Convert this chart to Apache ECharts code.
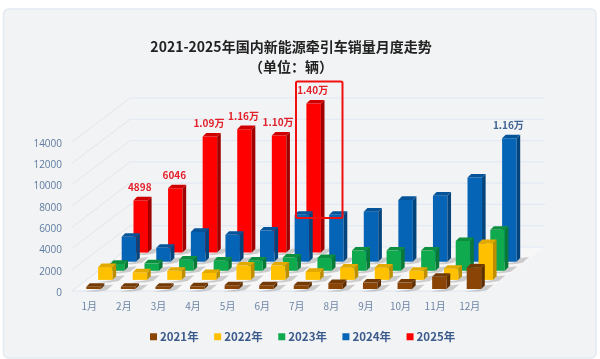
<!DOCTYPE html>
<html><head><meta charset="utf-8">
<style>html,body{margin:0;padding:0;background:#fff}#c{width:600px;height:359px;filter:blur(0.45px)}</style>
<script src="https://cdn.jsdelivr.net/npm/echarts@6/dist/echarts.min.js"></script>
</head><body><div id="c"></div>
<script>
const months = ['1月','2月','3月','4月','5月','6月','7月','8月','9月','10月','11月','12月'];
const yTicks = [0,2000,4000,6000,8000,10000,12000,14000];
const v2021 = [200,200,200,250,350,350,350,550,600,600,1150,2000];
const v2022 = [1200,700,850,650,1350,1350,750,1150,1150,850,1050,3450];
const v2023 = [650,700,1050,950,950,1250,1200,1900,1900,1900,2800,3850];
const v2024 = [2340,1300,2800,2530,2930,4400,4400,4700,5800,6200,7900,11600];
const v2025 = [4898,6046,10900,11600,11000,14000];
const labels2024 = {11:'1.16万'};
const labels2025 = {0:'4898',1:'6046',2:'1.09万',3:'1.16万',4:'1.10万',5:'1.40万'};
const FONT = '"Noto Sans CJK SC","Noto Sans",sans-serif';
const DX = 11.8, DY = -9.1, W = 14.5, SD = 3.6, START = -3, BACKX = 58, BACKY = -44;

const styles = [
  {name:'2021年',vals:v2021,front:'#8a4506',side:'#5f2f04',top:'#733a06',labels:{},lc:'#333'},
  {name:'2022年',vals:v2022,front:'#ffc000',side:'#bd8e00',top:'#e2aa00',labels:{},lc:'#333'},
  {name:'2023年',vals:v2023,front:'#10aa4e',side:'#0a7836',top:'#0c9040',labels:{},lc:'#333'},
  {name:'2024年',vals:v2024,front:'#0564b6',side:'#04447c',top:'#05549a',labels:labels2024,lc:'#3f6594'},
  {name:'2025年',vals:v2025,front:'#fe0000',side:'#a00000',top:'#d00000',labels:labels2025,lc:'#e3202a'}
];
function poly(pts,fill,extra){
  return Object.assign({type:'polygon',shape:{points:pts},style:{fill:fill},silent:true},extra||{});
}
function barRender(k,st){
  return function(params,api){
    const i=api.value(0),v=api.value(1);
    const b=api.coord([i,0]),t=api.coord([i,v]);
    const x=b[0]+START+k*DX, y0=b[1]-2+k*DY, y1=t[1]-2+k*DY;
    const ch=[];
    ch.push(poly([[x+W,y0],[x+W+SD,y0-SD],[x+W+SD+9,y0-SD-1],[x+W+6,y0+1],[x+W-3,y0+2.5],[x-2,y0+2.5]],'rgba(90,90,90,0.28)'));
    ch.push(poly([[x,y0],[x+W,y0],[x+W,y1],[x,y1]],st.front));
    ch.push(poly([[x+W,y0],[x+W+SD,y0-SD],[x+W+SD,y1-SD],[x+W,y1]],st.side));
    ch.push(poly([[x,y1],[x+W,y1],[x+W+SD,y1-SD],[x+SD,y1-SD]],st.top));
    const txt=st.labels[i];
    if(txt){
      ch.push({type:'text',silent:true,style:{text:txt,x:x+W/2-1,y:y1-13,align:'center',verticalAlign:'middle',
        font:'bold 10px '+FONT,fill:st.lc}});
    }
    return {type:'group',children:ch};
  };
}
function wallRender(params,api){
  const v=api.value(0), cs=params.coordSys, p=api.coord([0,v]);
  const xL=cs.x, xR=cs.x+cs.width, y=p[1];
  const ch=[];
  if(v===0){
    ch.push(poly([[xL,y],[xR,y],[xR+BACKX,y+BACKY],[xL+BACKX,y+BACKY]],'#f7f7f8'));
    ch.push({type:'line',silent:true,shape:{x1:xL,y1:y,x2:xR,y2:y},style:{stroke:'#dde6f0',lineWidth:1}});
  }
  ch.push({type:'line',silent:true,shape:{x1:xL,y1:y,x2:xL+BACKX,y2:y+BACKY},style:{stroke:'#e1e6ec',lineWidth:1}});
  ch.push({type:'line',silent:true,shape:{x1:xL+BACKX,y1:y+BACKY,x2:xR+BACKX,y2:y+BACKY},style:{stroke:'#dfe8f3',lineWidth:1}});
  return {type:'group',children:ch};
}
const series=[{type:'custom',name:'wall',coordinateSystem:'cartesian2d',z:1,silent:true,
  data:yTicks.map(v=>[v]),encode:{y:0},renderItem:wallRender,clip:false}];
styles.forEach((st,k)=>{
  series.push({type:'custom',name:st.name,coordinateSystem:'cartesian2d',z:10-k,silent:true,clip:false,
    itemStyle:{color:st.front},
    data:st.vals.map((v,i)=>[i,v]),encode:{x:0,y:1},renderItem:barRender(k,st)});
});
const chart=echarts.init(document.getElementById('c'),null,{renderer:'canvas'});
chart.setOption({
  animation:false,
  backgroundColor:'#fff',
  title:[
    {text:'2021-2025年国内新能源牵引车销量月度走势',left:291,top:40,textAlign:'center',padding:0,
     textStyle:{fontFamily:FONT,fontSize:14,fontWeight:'bold',color:'#222'}},
    {text:'（单位：辆）',left:291,top:60,textAlign:'center',padding:0,
     textStyle:{fontFamily:FONT,fontSize:14,fontWeight:'bold',color:'#222'}}
  ],
  legend:{data:styles.map(s=>s.name),left:150,top:331,padding:0,icon:'rect',itemWidth:7,itemHeight:7,itemGap:15.5,
    textStyle:{fontFamily:FONT,fontSize:11.5,fontWeight:'bold',color:'#3b5b8c',padding:[0,0,0,-2]}},
  grid:{left:72,top:142,width:415,height:149,containLabel:false},
  xAxis:{type:'category',data:months,axisLine:{show:false},axisTick:{show:false},
    axisLabel:{margin:10,color:'#6d84a6',fontSize:10,fontFamily:FONT},splitLine:{show:false}},
  yAxis:{type:'value',min:0,max:14000,interval:2000,axisLine:{show:false},axisTick:{show:false},
    splitLine:{show:false},axisLabel:{margin:10,color:'#5d7ba0',fontSize:10,fontFamily:'"Open Sans",sans-serif',
      verticalAlign:'top',lineHeight:4,formatter:function(v){return String(v);}}},
  graphic:[
    {type:'rect',z:-10,silent:true,shape:{x:3.5,y:9,width:592.5,height:349,r:5},style:{fill:'#f2f3f4',stroke:'#e2eaf2',lineWidth:1.5}},
    {type:'rect',z:100,silent:true,shape:{x:296,y:81.5,width:46.5,height:136.5,r:1.5},style:{fill:'none',stroke:'#f01010',lineWidth:2}}
  ],
  series:series
});
</script></body></html>
